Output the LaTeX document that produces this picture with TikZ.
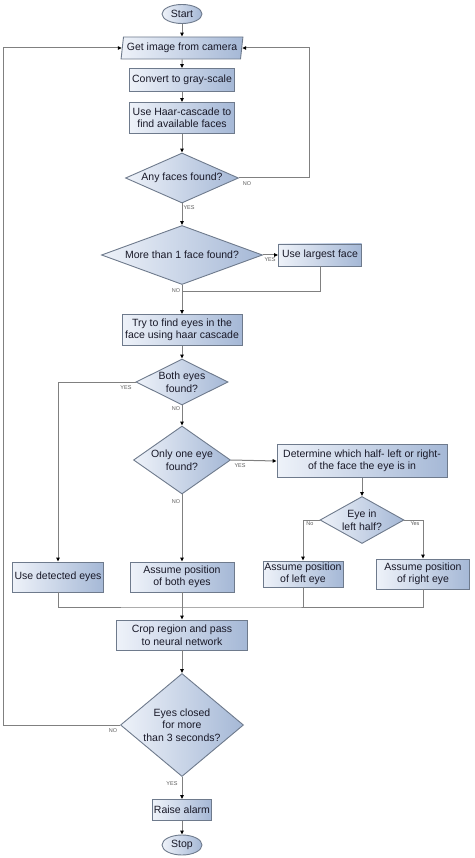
\documentclass[tikz,border=0pt]{standalone}
\usepackage{fontspec}
\setmainfont{Liberation Sans}
\usetikzlibrary{shapes.geometric,arrows.meta}
\definecolor{lineg}{RGB}{128,128,128}
\definecolor{bord}{RGB}{110,122,140}
\definecolor{fillL}{RGB}{238,242,249}
\definecolor{fillR}{RGB}{165,184,214}
\definecolor{lab}{RGB}{90,90,90}
\definecolor{txt}{RGB}{25,25,40}
\begin{document}
\begin{tikzpicture}[x=1pt,y=-1pt,
 base/.style={draw=bord, line width=0.9pt, left color=fillL, right color=fillR, text=txt,
   font=\fontsize{10.5}{12.5}\selectfont, align=center, inner sep=0pt},
 proc/.style={base, rectangle},
 term/.style={base, ellipse},
 io/.style={base, trapezium, trapezium left angle=77, trapezium right angle=103, trapezium stretches=true},
 dec/.style={base, diamond},
 line/.style={draw=lineg, line width=1pt},
 arr/.style={line, -{Triangle[length=4pt,width=3.5pt,color=black]}},
 lbl/.style={font=\fontsize{5.5}{6}\selectfont, text=lab, inner sep=0pt}]
\useasboundingbox (0,0) rectangle (474,858);

\node[term, minimum width=40pt, minimum height=19pt] (start) at (182,14) {Start};
\node[io, minimum width=122pt, minimum height=22pt] (get) at (182,48) {Get image from camera};
\node[proc, minimum width=105pt, minimum height=23pt] (gray) at (182,80) {Convert to gray-scale};
\node[proc, minimum width=105pt, minimum height=31pt] (haar) at (182,118) {Use Haar-cascade to\\find available faces};
\node[dec, aspect=2.26, minimum width=113pt, minimum height=50pt] (any) at (182,178) {Any faces found?};
\node[dec, aspect=2.73, minimum width=161pt, minimum height=59pt] (more) at (182,255) {More than 1 face found?};
\node[proc, minimum width=83pt, minimum height=22pt] (largest) at (320,255) {Use largest face};
\node[proc, minimum width=120pt, minimum height=31pt] (try) at (182,330) {Try to find eyes in the\\face using haar cascade};
\node[dec, aspect=2, minimum width=92pt, minimum height=46pt] (both) at (182,382) {Both eyes\\found?};
\node[dec, aspect=1.43, minimum width=97pt, minimum height=68pt] (only) at (182,460) {Only one eye\\found?};
\node[proc, minimum width=170pt, minimum height=33pt] (det) at (362,461) {Determine which half- left or right-\\of the face the eye is in};
\node[dec, aspect=1.79, minimum width=84pt, minimum height=47pt] (eyein) at (362,520) {Eye in\\left half?};
\node[proc, minimum width=91pt, minimum height=30pt] (used) at (58,577) {Use detected eyes};
\node[proc, minimum width=104pt, minimum height=30pt] (aboth) at (182,577) {Assume position\\of both eyes};
\node[proc, minimum width=80pt, minimum height=26pt] (aleft) at (303,574) {Assume position\\of left eye};
\node[proc, minimum width=93pt, minimum height=30pt] (aright) at (423,574) {Assume position\\of right eye};
\node[proc, minimum width=131pt, minimum height=30pt] (crop) at (182,635) {Crop region and pass\\to neural network};
\node[dec, aspect=1.19, minimum width=123pt, minimum height=103pt] (closed) at (182,725) {Eyes closed\\for more\\than 3 seconds?};
\node[proc, minimum width=59pt, minimum height=21pt] (alarm) at (182,810) {Raise alarm};
\node[term, minimum width=40pt, minimum height=20pt] (stop) at (182,845) {Stop};

\coordinate (rloop) at (309,178);
\coordinate (lloop) at (3,725);
\coordinate (m1) at (182,291);
\coordinate (m2) at (182,607);

\draw[arr] (start) -- (get);
\draw[arr] (get) -- (gray);
\draw[arr] (gray) -- (haar);
\draw[arr] (haar) -- (any);
\draw[arr] (any.east) -- (rloop) |- (get.east);
\draw[arr] (any.south) -- (more.north);
\draw[arr] (more.east) -- (largest.west);
\draw[line] (largest.south) |- (m1);
\draw[arr] (more.south) -- (try.north);
\draw[arr] (try) -- (both);
\draw[arr] (both.west) -| (used.north);
\draw[arr] (both.south) -- (only.north);
\draw[arr] (only.east) -- (det.west);
\draw[arr] (det.south) -- (eyein.north);
\draw[arr] (eyein.west) -| (aleft.north);
\draw[arr] (eyein.east) -| (aright.north);
\draw[arr] (only.south) -- (aboth.north);
\draw[line] (used.south) |- (m2) -| (aright.south);
\draw[line] (aleft.south) -- (aleft.south |- m2);
\draw[arr] (aboth.south) -- (crop.north);
\draw[arr] (crop) -- (closed);
\draw[arr] (closed.west) -- (lloop) |- (get.west);
\draw[arr] (closed.south) -- (alarm.north);
\draw[arr] (alarm) -- (stop);

\node[lbl] (l1) at (247,184) {NO};
\node[lbl] (l2) at (189,208) {YES};
\node[lbl] (l3) at (270,260) {YES};
\node[lbl] (l4) at (176,291) {NO};
\node[lbl] (l5) at (126,388) {YES};
\node[lbl] (l6) at (176,409) {NO};
\node[lbl] (l7) at (240,466) {YES};
\node[lbl] (l8) at (176,502) {NO};
\node[lbl] (l9) at (310,524) {No};
\node[lbl] (l10) at (415,524) {Yes};
\node[lbl] (l11) at (113,731) {NO};
\node[lbl] (l12) at (172,784) {YES};
\end{tikzpicture}
\end{document}
